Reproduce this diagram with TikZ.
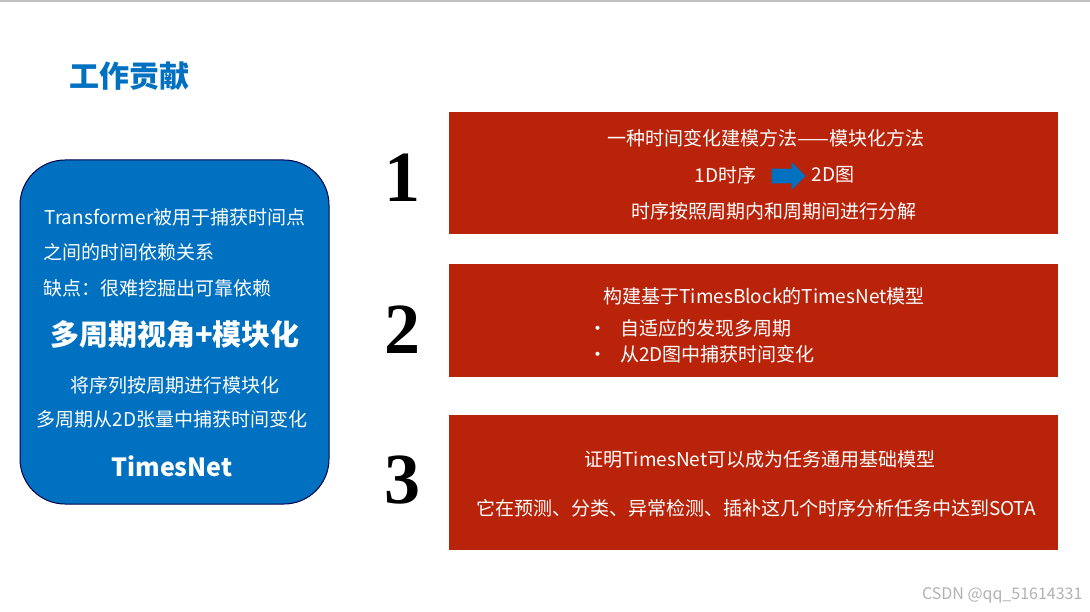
\documentclass[tikz,border=0pt]{standalone}
\usepackage{fontspec}
\setmainfont{Noto Sans CJK SC}
\newfontfamily\numfont{Liberation Serif}
\usetikzlibrary{shapes.arrows}
\definecolor{cblue}{HTML}{0070C0}
\definecolor{cred}{HTML}{B8230A}
\tikzset{wt/.style={text=white,font=\fontsize{19}{22}\selectfont,anchor=center},
 rbox/.style={fill=cred,draw=none},
 num/.style={font=\numfont\bfseries\fontsize{72}{72}\selectfont,text=black,anchor=center}}
\begin{document}
\begin{tikzpicture}[x=1pt,y=-1pt]
\useasboundingbox (0,0) rectangle (1090,612);
\fill[white] (0,0) rectangle (1090,612);
\draw[gray!50,line width=1.5pt] (0,1) -- (1090,1);
\node[anchor=west,text=cblue,font=\fontsize{30}{34}\selectfont\bfseries] (title) at (66,76) {工作贡献};
% left box
\draw[fill=cblue,draw=black!70!blue,line width=1pt,rounded corners=45pt] (20,160) rectangle (329,504);
\node[wt] (l1) at (175,217) {Transformer被用于捕获时间点};
\node[wt,anchor=west] (l2) at (40,252) {之间的时间依赖关系};
\node[wt,anchor=west] (l3) at (40,288) {缺点：很难挖掘出可靠依赖};
\node[wt,font=\fontsize{29}{32}\selectfont\bfseries] (l4) at (175,335) {多周期视角+模块化};
\node[wt] (l5) at (175,385) {将序列按周期进行模块化};
\node[wt] (l6) at (172,419) {多周期从2D张量中捕获时间变化};
\node[wt,font=\fontsize{25}{28}\selectfont\bfseries] (l7) at (172,466) {TimesNet};
% numbers
\node[num] (n1) at (402,178) {1};
\node[num] (n2) at (402,330) {2};
\node[num] (n3) at (402,480) {3};
% red boxes
\fill[rbox] (449,112) rectangle (1058,234);
\fill[rbox] (449,264) rectangle (1058,377);
\fill[rbox] (449,415) rectangle (1058,550);
\node[wt] (a1) at (766,138) {一种时间变化建模方法——模块化方法};
\node[wt,anchor=east] (a2) at (760,175) {1D时序};
\node[single arrow,fill=cblue,draw=none,minimum height=34pt,minimum width=28pt,single arrow head extend=2pt,inner sep=2pt] (arr) at (785,176) {};
\node[wt,anchor=west] (a3) at (808,175) {2D图};
\node[wt] (a4) at (774,211) {时序按照周期内和周期间进行分解};
\node[wt] (b1) at (764,296) {构建基于TimesBlock的TimesNet模型};
\node[wt,anchor=west] (b2) at (585,328) {•\ \ \ 自适应的发现多周期};
\node[wt,anchor=west] (b3) at (585,354) {•\ \ \ 从2D图中捕获时间变化};
\node[wt] (c1) at (760,459) {证明TimesNet可以成为任务通用基础模型};
\node[wt] (c2) at (756,508) {它在预测、分类、异常检测、插补这几个时序分析任务中达到SOTA};
\node[anchor=east,text=gray!60,font=\fontsize{16}{18}\selectfont] (wm) at (1086,595) {CSDN @qq\_51614331};
\end{tikzpicture}
\end{document}
